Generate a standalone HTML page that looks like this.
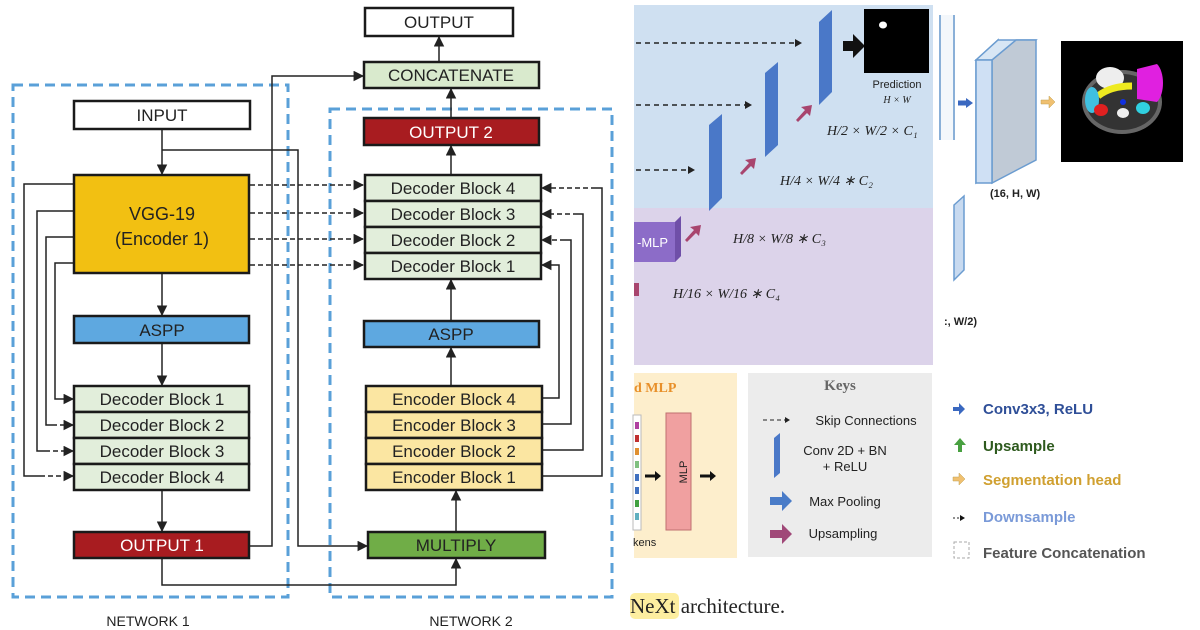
<!DOCTYPE html>
<html><head><meta charset="utf-8"><style>
html,body{margin:0;padding:0;background:#fff;width:1200px;height:630px;overflow:hidden}
svg{display:block}
.t{font-family:"Liberation Sans",sans-serif;font-size:17px;fill:#222;text-anchor:middle}
.b{stroke:#1a1a1a;stroke-width:2.5}
.l{stroke:#222;stroke-width:1.5;fill:none}
.d{stroke:#222;stroke-width:1.5;fill:none;stroke-dasharray:5 3}
.nb{stroke:#5aa0d8;stroke-width:3;fill:none;stroke-dasharray:10 6}
.m{font-family:"Liberation Serif",serif;font-size:14px;fill:#222;font-style:italic}
</style></head><body>
<svg width="1200" height="630" viewBox="0 0 1200 630" xmlns="http://www.w3.org/2000/svg">
<defs>
<marker id="a" viewBox="0 0 10 10" refX="9" refY="5" markerWidth="7" markerHeight="7" orient="auto-start-reverse"><path d="M0,0L10,5L0,10z" fill="#222"/></marker>
</defs>
<rect x="13" y="85" width="275" height="512" class="nb"/>
<rect x="330" y="109" width="282" height="488" class="nb"/>
<line x1="439" y1="62" x2="439" y2="37" class="l" marker-end="url(#a)"/>
<line x1="451" y1="118" x2="451" y2="89" class="l" marker-end="url(#a)"/>
<line x1="451" y1="175" x2="451" y2="146" class="l" marker-end="url(#a)"/>
<line x1="451" y1="321" x2="451" y2="280" class="l" marker-end="url(#a)"/>
<line x1="451" y1="386" x2="451" y2="348" class="l" marker-end="url(#a)"/>
<line x1="456" y1="532" x2="456" y2="491" class="l" marker-end="url(#a)"/>
<line x1="162" y1="129" x2="162" y2="174" class="l" marker-end="url(#a)"/>
<line x1="162" y1="273" x2="162" y2="315" class="l" marker-end="url(#a)"/>
<line x1="162" y1="343" x2="162" y2="385" class="l" marker-end="url(#a)"/>
<line x1="162" y1="490" x2="162" y2="531" class="l" marker-end="url(#a)"/>
<polyline points="249,546 272,546 272,76 363,76" class="l" marker-end="url(#a)"/>
<polyline points="162,150 298,150 298,546 367,546" class="l" marker-end="url(#a)"/>
<polyline points="162,558 162,585 456,585 456,559" class="l" marker-end="url(#a)"/>
<polyline points="74,184 24,184 24,476 40,476" class="l"/><line x1="40" y1="476" x2="73" y2="476" class="d" marker-end="url(#a)"/>
<polyline points="74,211 37,211 37,451 45,451" class="l"/><line x1="45" y1="451" x2="73" y2="451" class="d" marker-end="url(#a)"/>
<polyline points="74,237 46,237 46,425 52,425" class="l"/><line x1="52" y1="425" x2="73" y2="425" class="d" marker-end="url(#a)"/>
<polyline points="74,263 55,263 55,399 73,399" class="l" marker-end="url(#a)"/>
<line x1="250" y1="185" x2="363" y2="185" class="d" marker-end="url(#a)"/>
<line x1="250" y1="213" x2="363" y2="213" class="d" marker-end="url(#a)"/>
<line x1="250" y1="239" x2="363" y2="239" class="d" marker-end="url(#a)"/>
<line x1="250" y1="265" x2="363" y2="265" class="d" marker-end="url(#a)"/>
<polyline points="542,398 559,398 559,265 555,265" class="l"/><line x1="555" y1="265" x2="542" y2="265" class="d" marker-end="url(#a)"/>
<polyline points="542,424 571,424 571,240 565,240" class="l"/><line x1="565" y1="240" x2="542" y2="240" class="d" marker-end="url(#a)"/>
<polyline points="542,450 583,450 583,214 578,214" class="l"/><line x1="578" y1="214" x2="542" y2="214" class="d" marker-end="url(#a)"/>
<polyline points="542,476 602,476 602,188 596,188" class="l"/><line x1="596" y1="188" x2="542" y2="188" class="d" marker-end="url(#a)"/>
<rect x="365" y="8" width="148" height="28" fill="#fff" class="b"/><text x="439" y="28" class="t">OUTPUT</text>
<rect x="364" y="62" width="175" height="26" fill="#d9eacd" class="b"/><text x="451" y="81" class="t">CONCATENATE</text>
<rect x="74" y="101" width="176" height="28" fill="#fff" class="b"/><text x="162" y="121" class="t">INPUT</text>
<rect x="74" y="175" width="175" height="98" fill="#f2c012" class="b"/><text x="162" y="220" class="t" style="font-size:18px">VGG-19</text><text x="162" y="245" class="t" style="font-size:18px">(Encoder 1)</text>
<rect x="74" y="316" width="175" height="27" fill="#5ea8e0" class="b"/><text x="162" y="336" class="t">ASPP</text>
<g fill="#e2eedb" class="b"><rect x="74" y="386" width="175" height="26"/><rect x="74" y="412" width="175" height="26"/><rect x="74" y="438" width="175" height="26"/><rect x="74" y="464" width="175" height="26"/></g>
<text x="162" y="405" class="t">Decoder Block 1</text><text x="162" y="431" class="t">Decoder Block 2</text><text x="162" y="457" class="t">Decoder Block 3</text><text x="162" y="483" class="t">Decoder Block 4</text>
<rect x="74" y="532" width="175" height="26" fill="#a81c20" class="b"/><text x="162" y="551" class="t" style="fill:#fff">OUTPUT 1</text>
<rect x="364" y="118" width="175" height="27" fill="#a81c20" class="b"/><text x="451" y="138" class="t" style="fill:#fff">OUTPUT 2</text>
<g fill="#e2eedb" class="b"><rect x="365" y="175" width="176" height="26"/><rect x="365" y="201" width="176" height="26"/><rect x="365" y="227" width="176" height="26"/><rect x="365" y="253" width="176" height="26"/></g>
<text x="453" y="194" class="t">Decoder Block 4</text><text x="453" y="220" class="t">Decoder Block 3</text><text x="453" y="246" class="t">Decoder Block 2</text><text x="453" y="272" class="t">Decoder Block 1</text>
<rect x="364" y="321" width="175" height="26" fill="#5ea8e0" class="b"/><text x="451" y="340" class="t">ASPP</text>
<g fill="#fbe6a2" class="b"><rect x="366" y="386" width="176" height="26"/><rect x="366" y="412" width="176" height="26"/><rect x="366" y="438" width="176" height="26"/><rect x="366" y="464" width="176" height="26"/></g>
<text x="454" y="405" class="t">Encoder Block 4</text><text x="454" y="431" class="t">Encoder Block 3</text><text x="454" y="457" class="t">Encoder Block 2</text><text x="454" y="483" class="t">Encoder Block 1</text>
<rect x="368" y="532" width="177" height="26" fill="#70ad47" class="b"/><text x="456" y="551" class="t">MULTIPLY</text>
<text x="148" y="626" class="t" style="font-size:14px">NETWORK 1</text>
<text x="471" y="626" class="t" style="font-size:14px">NETWORK 2</text>

<rect x="634" y="5" width="299" height="203" fill="#cfe0f1"/>
<rect x="634" y="208" width="299" height="157" fill="#dcd3ea"/>
<g stroke="#222" stroke-width="1.5" stroke-dasharray="5 4"><line x1="636" y1="43" x2="795" y2="43"/><line x1="636" y1="105" x2="745" y2="105"/><line x1="636" y1="170" x2="688" y2="170"/></g>
<g fill="#222"><path d="M795,39L802,43L795,47z"/><path d="M745,101L752,105L745,109z"/><path d="M688,166L695,170L688,174z"/></g>
<g fill="#4a78c8"><path d="M819,22L832,10V92L819,105z"/><path d="M765,73L778,62V145L765,157z"/><path d="M709,125L722,114V198L709,211z"/></g>
<path d="M843,41h10v-7l12,12l-12,12v-7h-10z" fill="#111"/>
<rect x="864" y="9" width="65" height="64" fill="#000"/><ellipse cx="883" cy="25" rx="4" ry="3.5" fill="#fff"/>
<text x="897" y="88" class="t" style="font-size:11px">Prediction</text>
<text x="897" y="103" class="t" style="font-family:'Liberation Serif',serif;font-size:10px;font-style:italic">H × W</text>
<g fill="#a8456e"><path d="M796,120l9,-10l-4,-3l11,-2l-2,11l-3,-3l-9,9z"/><path d="M740,173l9,-10l-4,-3l11,-2l-2,11l-3,-3l-9,9z"/><path d="M685,240l9,-10l-4,-3l11,-2l-2,11l-3,-3l-9,9z"/><rect x="634" y="283" width="5" height="13"/></g>
<text x="827" y="135" class="m">H/2 × W/2 × C₁</text>
<text x="780" y="185" class="m">H/4 × W/4 ∗ C₂</text>
<text x="733" y="243" class="m">H/8 × W/8 ∗ C₃</text>
<text x="673" y="298" class="m">H/16 × W/16 ∗ C₄</text>
<path d="M634,222h41l6,-6v40l-6,6h-41z" fill="#8c6cc8"/><path d="M675,222l6,-6v40l-6,6z" fill="#6f4fa8"/>
<text x="637" y="247" style="font-family:'Liberation Sans',sans-serif;font-size:13px;fill:#fff">-MLP</text>

<rect x="634" y="373" width="103" height="185" fill="#fdeecc"/>
<text x="634" y="392" style="font-family:'Liberation Serif',serif;font-weight:bold;font-size:14px;fill:#e8902a">d MLP</text>
<rect x="633" y="415" width="8" height="115" fill="#fff" stroke="#bbb"/>
<g><rect x="635" y="422" width="4" height="7" fill="#b040a0"/><rect x="635" y="435" width="4" height="7" fill="#c03030"/><rect x="635" y="448" width="4" height="7" fill="#e09030"/><rect x="635" y="461" width="4" height="7" fill="#80c080"/><rect x="635" y="474" width="4" height="7" fill="#4070c0"/><rect x="635" y="487" width="4" height="7" fill="#4070c0"/><rect x="635" y="500" width="4" height="7" fill="#40a040"/><rect x="635" y="513" width="4" height="7" fill="#60b0c0"/></g>
<rect x="666" y="413" width="25" height="117" fill="#f0a0a0" stroke="#c07070"/>
<text x="683" y="476" transform="rotate(-90 683 472)" style="font-family:'Liberation Sans',sans-serif;font-size:11px;fill:#222" text-anchor="middle">MLP</text>
<path d="M645,476h12M700,476h12" stroke="#111" stroke-width="3"/><path d="M655,471l6,5l-6,5zM710,471l6,5l-6,5z" fill="#111"/>
<text x="633" y="546" style="font-family:'Liberation Sans',sans-serif;font-size:11px;fill:#222">kens</text>
<rect x="748" y="373" width="184" height="184" fill="#ececec"/>
<text x="840" y="390" class="t" style="font-family:'Liberation Serif',serif;font-weight:bold;font-size:15px;fill:#666">Keys</text>
<line x1="763" y1="420" x2="785" y2="420" stroke="#222" stroke-dasharray="4 3"/><path d="M785,417l5,3l-5,3z" fill="#222"/>
<g style="font-family:'Liberation Sans',sans-serif;font-size:13px;fill:#222" text-anchor="middle"><text x="866" y="425">Skip Connections</text><text x="845" y="455">Conv 2D + BN</text><text x="845" y="471">+ ReLU</text><text x="845" y="506">Max Pooling</text><text x="843" y="538">Upsampling</text></g>
<path d="M774,438l6,-5v40l-6,5z" fill="#4a78c8"/>
<path d="M770,497h12v-6l10,10l-10,10v-6h-12z" fill="#4a7cc8"/>
<path d="M770,530h12v-6l10,10l-10,10v-6h-12z" fill="#a04878"/>
<g style="font-family:'Liberation Sans',sans-serif;font-weight:bold;font-size:15px"><text x="983" y="414" fill="#2f4f98">Conv3x3, ReLU</text><text x="983" y="451" fill="#2e5a1e">Upsample</text><text x="983" y="485" fill="#d0a030">Segmentation head</text><text x="983" y="522" fill="#7a9ad8">Downsample</text><text x="983" y="558" fill="#555">Feature Concatenation</text></g>
<path d="M953,407h6v-4l6,6l-6,6v-4h-6z" fill="#3a68c0"/>
<path d="M958,452v-7h-4l6,-7l6,7h-4v7z" fill="#48a040"/>
<path d="M953,477h6v-4l6,6l-6,6v-4h-6z" fill="#f0c070" stroke="#c0a050" stroke-width=".5"/>
<line x1="953" y1="518" x2="960" y2="518" stroke="#222" stroke-dasharray="2 2"/><path d="M960,515l5,3l-5,3z" fill="#111"/>
<rect x="954" y="542" width="15" height="16" fill="none" stroke="#aaa" stroke-dasharray="3 2"/>
<path d="M940,15v125" stroke="#8ab0d8" stroke-width="2"/><path d="M941,15h13v125h-13z" fill="#e8f0f8" opacity=".5"/><path d="M954,15v125" stroke="#8ab0d8" stroke-width="2"/>
<path d="M958,103h9" stroke="#3a68c0" stroke-width="5"/><path d="M966,98l7,5l-7,5z" fill="#3a68c0"/>
<path d="M976,60L998,40V170L976,183z" fill="#c8daf0" stroke="#6b9cd0" stroke-width="1.5"/>
<path d="M976,60L998,40H1036L1016,60z" fill="#d8e6f4" stroke="#6b9cd0" stroke-width="1.5"/>
<path d="M992,60L1016,40H1036V160L992,183z" fill="#c0cad6" stroke="#6b9cd0" stroke-width="1.5"/>
<rect x="976" y="60" width="16" height="123" fill="#cfe0f4" stroke="#6b9cd0" stroke-width="1.5"/>
<text x="990" y="197" style="font-family:'Liberation Sans',sans-serif;font-weight:bold;font-size:11px;fill:#222">(16, H, W)</text>
<path d="M1041,100h8v-4l6,6l-6,6v-4h-8z" fill="#f0c070" stroke="#c0a050" stroke-width=".5"/>
<rect x="1061" y="41" width="122" height="121" fill="#000"/>
<ellipse cx="1122" cy="102" rx="40" ry="32" fill="#666"/>
<ellipse cx="1122" cy="102" rx="36" ry="28" fill="#333"/>
<ellipse cx="1110" cy="78" rx="14" ry="11" fill="#eee"/>
<path d="M1157,64c8,8,8,30,0,38l-20,-3v-30z" fill="#e020e0"/>
<path d="M1098,96c10,-8,24,-10,34,-10" stroke="#eeea20" stroke-width="7" fill="none"/>
<ellipse cx="1092" cy="100" rx="7" ry="13" fill="#40c0e0"/>
<ellipse cx="1101" cy="110" rx="7" ry="6" fill="#e02020"/>
<ellipse cx="1143" cy="108" rx="7" ry="6" fill="#30d0e0"/>
<circle cx="1123" cy="102" r="3" fill="#1030e0"/>
<ellipse cx="1123" cy="113" rx="6" ry="5" fill="#eee"/>
<path d="M954,205L964,196V270L954,280z" fill="#c8daf0" stroke="#6b9cd0" stroke-width="1.5"/>
<text x="944" y="325" style="font-family:'Liberation Sans',sans-serif;font-weight:bold;font-size:11px;fill:#222">:, W/2)</text>
<rect x="630" y="593" width="49" height="26" rx="5" fill="#fdeea0"/>
<text x="630" y="613" style="font-family:'Liberation Serif',serif;font-size:21px;fill:#222">NeXt architecture.</text>
</svg>
</body></html>
